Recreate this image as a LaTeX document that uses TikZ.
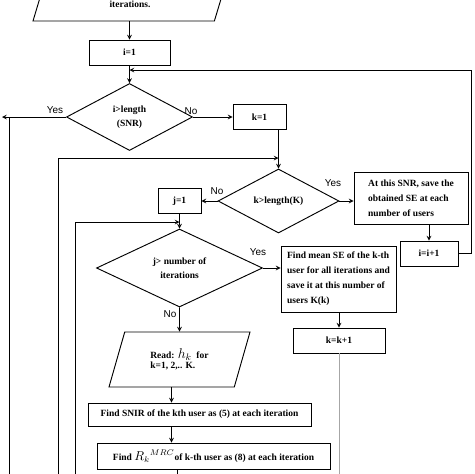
\documentclass[tikz,border=0pt]{standalone}
\usepackage{fontspec}
\setmainfont{Liberation Serif}
\newfontfamily\answerfont{Liberation Sans}
\usetikzlibrary{shapes.geometric, arrows.meta}
\tikzset{
  process/.style  = {rectangle, draw, thick, align=center, minimum height=0.75cm,
                     inner sep=2pt, font=\bfseries\fontsize{8.1}{12.8}\selectfont},
  infobox/.style  = {process, align=left},
  decision/.style = {diamond, draw, thick, align=center, aspect=2, inner sep=0pt,
                     font=\bfseries\fontsize{8.1}{12}\selectfont},
  io/.style       = {trapezium, trapezium left angle=62, trapezium right angle=118,
                     trapezium stretches body, draw, thick, align=left,
                     font=\bfseries\fontsize{8.1}{9}\selectfont},
  answer/.style   = {inner sep=1pt, font=\answerfont\fontsize{8.5}{9}\selectfont},
  arrow/.style    = {thick,->,>=stealth}
}

\begin{document}
\begin{tikzpicture}[x=0.03cm, y=-0.03cm]
  \useasboundingbox (0,0) rectangle (474,474);
  \clip (0,0) rectangle (474,474);

  % SNR loop
  \node (input) [io, align=center, minimum width=5.82cm, minimum height=1.26cm,
                 text height=13.6pt, text depth=0pt] at (130,0) {iterations.};
  \node (ione)  [process, minimum width=2.43cm] at (129.5,52.5) {i=1};
  \node (ilen)  [decision, minimum width=3.78cm, minimum height=2.01cm] at (129.5,117) {i>length\\(SNR)};
  \node (save)  [infobox, minimum width=3.42cm, minimum height=1.56cm] at (411,198)
                {At this SNR, save the\\obtained SE at each\\number of users};
  \node (iinc)  [process, minimum width=1.74cm] at (429,253.5) {i=i+1};

  % user loop
  \node (kone)  [process, minimum width=1.59cm] at (259.5,117) {k=1};
  \node (klen)  [decision, minimum width=3.63cm, minimum height=1.92cm] at (278.5,201) {k>length(K)};
  \node (mean)  [infobox, minimum width=3.45cm, minimum height=1.98cm] at (338.5,279)
                {Find mean SE of the k-th\\user for all iterations and\\save it at this number of\\users K(k)};
  \node (kinc)  [process, minimum width=2.76cm] at (339,340.5) {k=k+1};

  % iteration loop
  \node (jone)  [process, minimum width=1.29cm] at (179.5,201) {j=1};
  \node (jlen)  [decision, minimum width=4.98cm, minimum height=2.34cm] at (179.5,268) {j> number of\\iterations};
  \node (read)  [io, minimum width=4.23cm, minimum height=1.65cm] at (179.5,359.5)
                {Read: {\fontsize{11.5}{11}\selectfont$h_k$} \ for\\k=1, 2,.. K.};
  \node (snir)  [process, minimum width=6.69cm, minimum height=0.69cm] at (199.5,414.5)
                {Find SNIR of the kth user as (5) at each iteration};
  \node (mrc)   [process, minimum width=6.99cm, minimum height=0.78cm] at (213.5,456)
                {Find {\fontsize{10.5}{10}\selectfont$R_k{}^{MRC}$}of k-th user as (8) at each iteration};

  % branch labels
  \node (yesi) [answer] at (55,110)  {Yes};
  \node (noi)  [answer] at (191,111) {No};
  \node (nok)  [answer] at (217,191) {No};
  \node (yesk) [answer] at (333,183) {Yes};
  \node (yesj) [answer] at (258,252) {Yes};
  \node (noj)  [answer] at (170,314) {No};

  % free ends
  \coordinate (stopout)  at (2,117);
  \coordinate (leftjoin) at (9,117);
  \coordinate (leftbot)  at (9,480);
  \coordinate (rtop)     at (471,70);
  \coordinate (kjoin)    at (278.5,158);
  \coordinate (kloopbot) at (58,480);
  \coordinate (jjoin)    at (179.5,222);
  \coordinate (jloopbot) at (75,480);
  \coordinate (kincbot)  at (339,480);
  \coordinate (mrcout)   at (177,480);
  \coordinate (readout)  at (read.bottom side);

  % Arrows — SNR loop
  \draw[arrow] (input.south -| ione.north) -- (ione.north);
  \draw[arrow] (ione) -- (ilen);
  \draw[arrow] (ilen.west) -- (stopout);
  \draw[thick] (leftbot) -- (leftjoin);
  \draw[arrow] (ilen.east) -- (kone.west);
  \draw[arrow] (iinc.east) -| (rtop) -- (rtop -| ione);
  % user loop
  \draw[arrow] (kone.south -| klen.north) -- (klen.north);
  \draw[arrow] (kloopbot) |- (kjoin);
  \draw[arrow] (klen.west) -- (jone.east);
  \draw[arrow] (klen.east) -- (klen.east -| save.west);
  \draw[arrow] (save.south -| iinc.north) -- (iinc.north);
  \draw[arrow] (mean.south -| kinc.north) -- (kinc.north);
  \draw[draw=gray!70] (kinc.south) -- (kincbot);
  % iteration loop
  \draw[arrow] (jone) -- (jlen);
  \draw[arrow] (jloopbot) |- (jjoin);
  \draw[arrow] (jlen.east) -- (jlen.east -| mean.west);
  \draw[arrow] (jlen.south) -- (read.north);
  \draw[arrow] (readout) -- (readout |- snir.north);
  \draw[arrow] (snir.south -| readout) -- (mrc.north -| readout);
  \draw[thick] (mrc.south -| mrcout) -- (mrcout);
\end{tikzpicture}
\end{document}
